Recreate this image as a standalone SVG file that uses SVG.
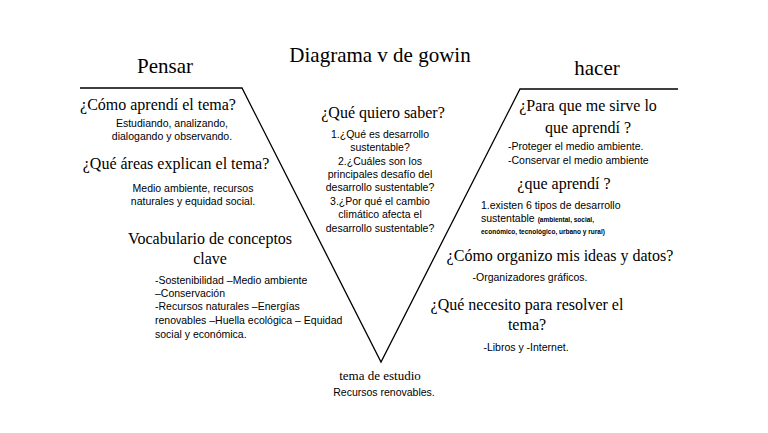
<svg xmlns="http://www.w3.org/2000/svg" width="768" height="433" viewBox="0 0 768 433">
<style>
.s{font-family:'Liberation Serif','DejaVu Serif','Times New Roman',serif;fill:#000}
.a{font-family:'Liberation Sans',Arial,sans-serif;font-size:10.5px;fill:#000}
.sm{font-size:6.5px;font-weight:bold}
.h{font-size:16px}
.t{font-size:21px}
</style>
<rect width="768" height="433" fill="#fff"/>
<g id="connectors" fill="none" stroke="#000" stroke-width="1.3">
<polyline points="80,88 242,88 381,362 520,89 678,89"/>
</g>
<g id="titles" text-anchor="middle">
<text x="380" y="62" class="s t">Diagrama v de gowin</text>
<text x="165" y="73" class="s t">Pensar</text>
<text x="597" y="75" class="s t">hacer</text>
</g>
<g id="left" text-anchor="middle">
<text x="158" y="110" class="s h">¿Cómo aprendí el tema?</text>
<text x="172" y="127" class="a">Estudiando, analizando,</text>
<text x="172" y="140" class="a">dialogando y observando.</text>
<text x="176" y="169" class="s h">¿Qué áreas explican el tema?</text>
<text x="193" y="192" class="a">Medio ambiente, recursos</text>
<text x="193" y="205" class="a">naturales y equidad social.</text>
<text x="210" y="244" class="s h">Vocabulario de conceptos</text>
<text x="210" y="264" class="s h">clave</text>
<g text-anchor="start">
<text x="155" y="284" class="a">-Sostenibilidad –Medio ambiente</text>
<text x="155" y="297" class="a">–Conservación</text>
<text x="155" y="310" class="a">-Recursos naturales –Energías</text>
<text x="155" y="324" class="a">renovables –Huella ecológica – Equidad</text>
<text x="155" y="338" class="a">social y económica.</text>
</g>
</g>
<g id="center" text-anchor="middle">
<text x="383" y="118" class="s h">¿Qué quiero saber?</text>
<text x="380" y="138" class="a">1.¿Qué es desarrollo</text>
<text x="380" y="151" class="a">sustentable?</text>
<text x="380" y="165" class="a">2.¿Cuáles son los</text>
<text x="380" y="178" class="a">principales desafío del</text>
<text x="380" y="191" class="a">desarrollo sustentable?</text>
<text x="380" y="205" class="a">3.¿Por qué el cambio</text>
<text x="380" y="218" class="a">climático afecta el</text>
<text x="380" y="232" class="a">desarrollo sustentable?</text>
<text x="380" y="380" class="s" style="font-size:13px">tema de estudio</text>
<text x="384" y="396" class="a">Recursos renovables.</text>
</g>
<g id="right" text-anchor="middle">
<text x="588" y="111" class="s h">¿Para que me sirve lo</text>
<text x="588" y="133" class="s h">que aprendí ?</text>
<g text-anchor="start">
<text x="508" y="150" class="a">-Proteger el medio ambiente.</text>
<text x="508" y="164" class="a">-Conservar el medio ambiente</text>
</g>
<text x="564" y="189" class="s h">¿que aprendí ?</text>
<g text-anchor="start">
<text x="481" y="209" class="a">1.existen  6 tipos de desarrollo</text>
<text x="481" y="222" class="a">sustentable <tspan class="sm">(ambiental, social,</tspan></text>
<text x="481" y="234" class="a sm">económico, tecnológico, urbano y rural)</text>
</g>
<text x="560" y="261" class="s h">¿Cómo organizo mis ideas y datos?</text>
<text x="530" y="281" class="a">-Organizadores gráficos.</text>
<text x="527" y="310" class="s h">¿Qué necesito para resolver el</text>
<text x="527" y="330" class="s h">tema?</text>
<text x="526" y="351" class="a">-Libros y -Internet.</text>
</g>
</svg>
